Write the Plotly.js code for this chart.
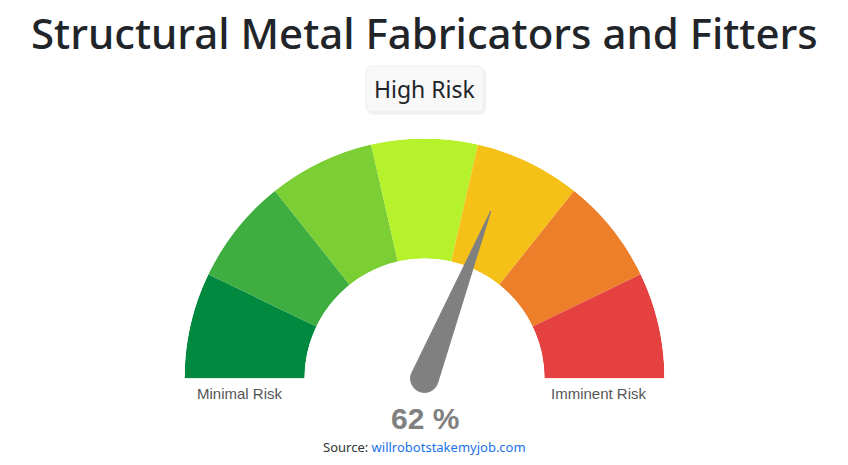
<!DOCTYPE html>
<html>
<head>
<meta charset="utf-8">
<script src="https://cdn.plot.ly/plotly-3.0.1.min.js"></script>
<style>html,body{margin:0;padding:0;background:#fff;}#chart{width:848px;height:465px;}</style>
</head>
<body>
<div id="chart"></div>
<script>
// ---- data ----
const title = "Structural Metal Fabricators and Fitters";
const riskLabel = "High Risk";
const riskValue = 62; // percent
const segmentColors = ["#00893f", "#3dae3f", "#7bce34", "#b5f22c", "#f5c018", "#ee7f2a", "#e54141"];
const endLabels = ["Minimal Risk", "Imminent Risk"];
const sourceText = "willrobotstakemyjob.com";

// ---- geometry (page pixels) ----
const W = 848, H = 465;
const cx = 424.5, cy = 378.5, R = 240;   // gauge centre and outer radius
const px = x => x / W, py = y => 1 - y / H;

const n = segmentColors.length;
const step = 180 / n;
const theta = segmentColors.map((c, i) => 180 - (i + 0.5) * step);
const rVals = segmentColors.map(() => 1);

// needle path (axis units) built from the value
const ang = Math.PI * (1 - riskValue / 100);
const tipR = 0.75, baseR = 0.058;
let needle = "";
for (let k = 0; k <= 24; k++) {
  const a = ang + Math.PI / 2 + Math.PI * k / 24;
  needle += (k === 0 ? "M" : "L") + (baseR * Math.cos(a)).toFixed(5) + "," + (baseR * Math.sin(a)).toFixed(5) + " ";
}
needle += "L" + (tipR * Math.cos(ang)).toFixed(5) + "," + (tipR * Math.sin(ang)).toFixed(5) + " Z";

// rounded box for the risk label (paper units)
function roundRect(x0, y0, x1, y1, r) {
  const rx = r / W, ry = r / H;
  const X0 = px(x0), X1 = px(x1), Y0 = py(y0), Y1 = py(y1);
  return `M${X0 + rx},${Y0} L${X1 - rx},${Y0} Q${X1},${Y0} ${X1},${Y0 - ry} L${X1},${Y1 + ry} Q${X1},${Y1} ${X1 - rx},${Y1} L${X0 + rx},${Y1} Q${X0},${Y1} ${X0},${Y1 + ry} L${X0},${Y0 - ry} Q${X0},${Y0} ${X0 + rx},${Y0} Z`;
}

const traces = [
  {
    type: "barpolar",
    r: rVals,
    theta: theta,
    width: segmentColors.map(() => step),
    marker: {color: segmentColors, line: {width: 0}},
    hoverinfo: "skip",
    showlegend: false
  },
  {
    type: "scatter",
    x: [0], y: [0],
    mode: "markers",
    marker: {size: 1, color: "rgba(0,0,0,0)"},
    hoverinfo: "skip",
    showlegend: false
  }
];

const font = "'Noto Sans', 'Open Sans', sans-serif";
const arial = "'Liberation Sans', Arial, sans-serif";
const layout = {
  width: W, height: H,
  margin: {l: 0, r: 0, t: 0, b: 0},
  paper_bgcolor: "#fff",
  plot_bgcolor: "rgba(0,0,0,0)",
  showlegend: false,
  polar: {
    domain: {x: [px(cx - R), px(cx + R)], y: [py(cy), py(cy - R)]},
    sector: [0, 180],
    hole: 0.5,
    bgcolor: "rgba(0,0,0,0)",
    radialaxis: {visible: false, range: [0, 1]},
    angularaxis: {visible: false, direction: "counterclockwise", rotation: 0}
  },
  xaxis: {domain: [0, 1], range: [-cx / R, (W - cx) / R], visible: false, fixedrange: true},
  yaxis: {domain: [0, 1], range: [-(H - cy) / R, cy / R], visible: false, fixedrange: true},
  shapes: [
    {type: "path", xref: "paper", yref: "paper", path: roundRect(367, 68, 486, 115, 7),
     fillcolor: "rgba(0,0,0,0.05)", line: {width: 0}, layer: "below"},
    {type: "path", xref: "paper", yref: "paper", path: roundRect(366, 66, 484, 112, 7),
     fillcolor: "#f8f8f8", line: {color: "#ececec", width: 1}, layer: "below"},
    {type: "path", xref: "x", yref: "y", path: needle,
     fillcolor: "#808080", line: {color: "#808080", width: 1}, layer: "above"}
  ],
  annotations: [
    {text: title, xref: "paper", yref: "paper", x: 0.5, y: py(32), xanchor: "center", yanchor: "middle",
     showarrow: false, font: {family: font, size: 42, color: "#212529", weight: 500}},
    {text: riskLabel, xref: "paper", yref: "paper", x: px(425), y: py(89), xanchor: "center", yanchor: "middle",
     showarrow: false, font: {family: font, size: 23, color: "#212529"}},
    {text: endLabels[0], xref: "paper", yref: "paper", x: px(240), y: py(393), xanchor: "center", yanchor: "middle",
     showarrow: false, font: {family: arial, size: 15, color: "#555"}},
    {text: endLabels[1], xref: "paper", yref: "paper", x: px(599), y: py(393), xanchor: "center", yanchor: "middle",
     showarrow: false, font: {family: arial, size: 15, color: "#555"}},
    {text: "<b>" + riskValue + " %</b>", xref: "paper", yref: "paper", x: px(425), y: py(418), xanchor: "center", yanchor: "middle",
     showarrow: false, font: {family: arial, size: 30, color: "#808080"}},
    {text: "Source: <span style='color:#1a73e8'>" + sourceText + "</span>", xref: "paper", yref: "paper",
     x: px(425), y: py(447), xanchor: "center", yanchor: "middle",
     showarrow: false, font: {family: font, size: 13, color: "#333"}}
  ]
};

Plotly.newPlot("chart", traces, layout, {displayModeBar: false, staticPlot: true});
</script>
</body>
</html>
